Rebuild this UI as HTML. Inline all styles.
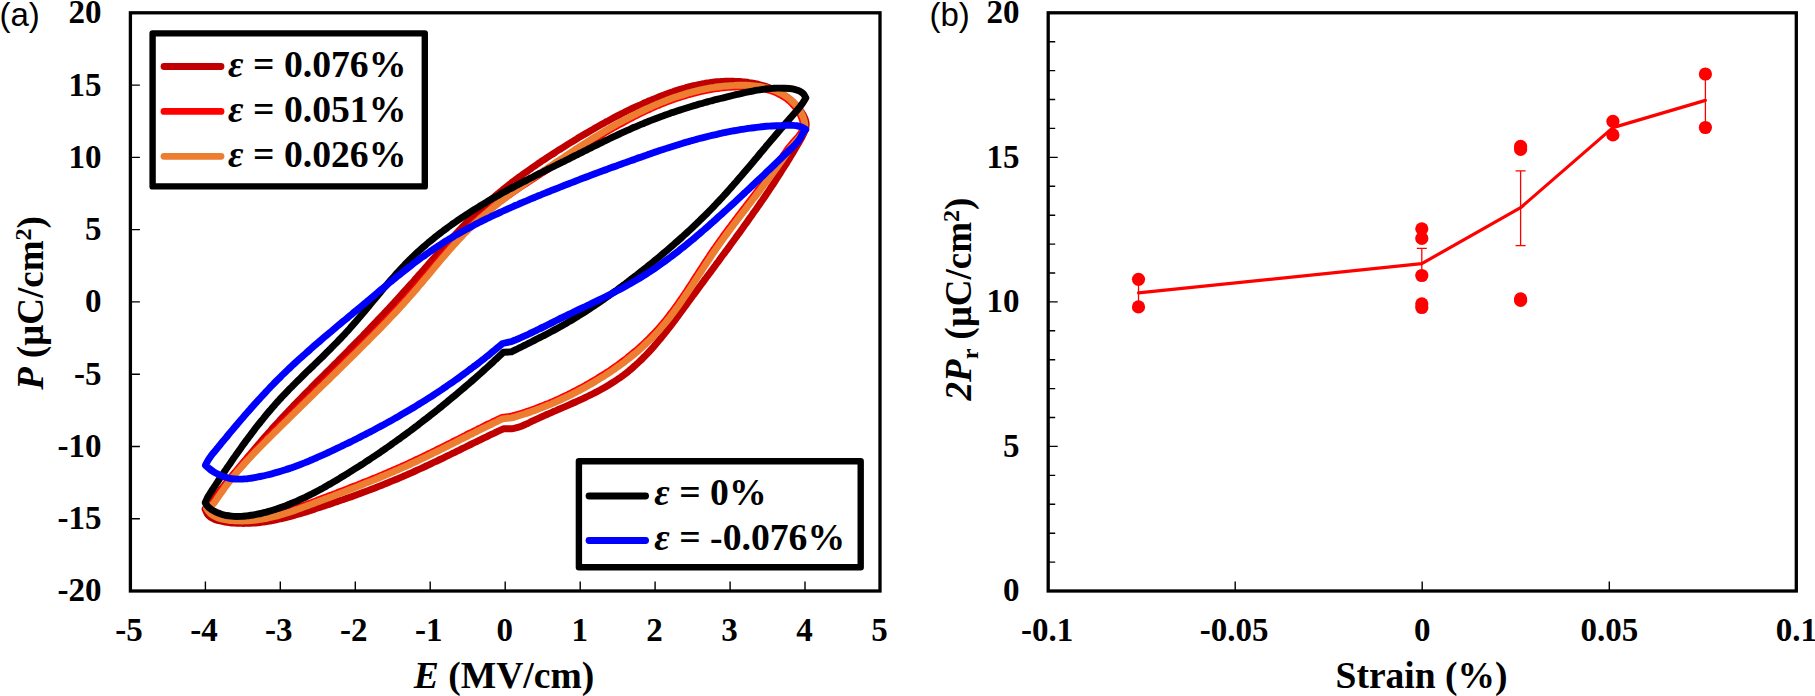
<!DOCTYPE html>
<html lang="en"><head><meta charset="utf-8"><title>Figure</title>
<style>
html,body{margin:0;padding:0;background:#fff}
body{width:1815px;height:696px;overflow:hidden}
svg{display:block}
text{font-family:"Liberation Serif","Times New Roman",serif;font-weight:bold;fill:#000}
.sans{font-family:"Liberation Sans",Arial,sans-serif;font-weight:normal}
.it{font-style:italic}
</style></head><body>
<svg width="1815" height="696" viewBox="0 0 1815 696">
<rect width="1815" height="696" fill="#fff"/>
<g id="panel-a">
<g fill="none" stroke-width="6.9" stroke-linejoin="round" stroke-linecap="round" transform="translate(0 1.3)">
<path stroke="#C00000" d="M503.3 427.5C502.5 427.9 500.3 428.9 498.8 429.6C497.3 430.3 495.8 431.0 494.3 431.8C492.8 432.5 491.2 433.2 489.7 433.9C488.2 434.6 486.7 435.4 485.2 436.1C483.7 436.8 482.2 437.5 480.7 438.3C479.2 439.0 477.7 439.8 476.2 440.5C474.7 441.2 473.2 442.0 471.6 442.7C470.1 443.4 468.6 444.2 467.1 444.9C465.6 445.7 464.1 446.4 462.6 447.1C461.1 447.9 459.6 448.6 458.1 449.4C456.6 450.1 455.0 450.9 453.5 451.6C452.0 452.3 450.5 453.1 449.0 453.8C447.5 454.5 446.0 455.3 444.5 456.0C442.9 456.8 441.4 457.5 439.9 458.2C438.4 458.9 436.9 459.7 435.4 460.4C433.8 461.1 432.3 461.8 430.8 462.6C429.3 463.3 427.8 464.0 426.2 464.7C424.7 465.4 423.2 466.1 421.7 466.8C420.1 467.5 418.6 468.2 417.1 468.9C415.6 469.6 414.0 470.3 412.5 471.0C411.0 471.7 409.4 472.4 407.9 473.0C406.4 473.7 404.8 474.4 403.3 475.0C401.8 475.7 400.2 476.4 398.7 477.0C397.2 477.7 395.6 478.3 394.1 478.9C392.5 479.6 391.0 480.2 389.4 480.8C387.9 481.5 386.4 482.1 384.8 482.7C383.3 483.3 381.7 484.0 380.2 484.6C378.6 485.2 377.1 485.8 375.5 486.4C374.0 487.0 372.4 487.6 370.8 488.2C369.3 488.8 367.7 489.4 366.2 490.0C364.6 490.5 363.0 491.1 361.5 491.7C359.9 492.3 358.3 492.9 356.8 493.4C355.2 494.0 353.6 494.6 352.1 495.1C350.5 495.7 348.9 496.2 347.3 496.8C345.8 497.4 344.2 497.9 342.6 498.5C341.0 499.0 339.4 499.6 337.8 500.1C336.3 500.6 334.7 501.2 333.1 501.7C331.5 502.3 329.9 502.8 328.3 503.3C326.7 503.9 325.1 504.4 323.5 504.9C321.9 505.4 320.3 506.0 318.7 506.5C317.1 507.0 315.5 507.5 313.9 508.1C312.3 508.6 310.7 509.1 309.1 509.6C307.5 510.1 305.9 510.6 304.2 511.1C302.6 511.6 301.0 512.1 299.4 512.6C297.8 513.0 296.1 513.5 294.5 514.0C292.9 514.4 291.3 514.9 289.6 515.3C288.0 515.7 286.4 516.2 284.7 516.6C283.1 517.0 281.5 517.3 279.8 517.7C278.2 518.1 276.6 518.4 274.9 518.8C273.3 519.1 271.6 519.4 270.0 519.7C268.3 520.0 266.7 520.3 265.1 520.5C263.4 520.7 261.8 521.0 260.1 521.2C258.5 521.3 256.8 521.5 255.1 521.7C253.5 521.8 251.8 521.9 250.2 522.0C248.5 522.1 246.9 522.1 245.2 522.1C243.5 522.2 241.9 522.1 240.2 522.1C238.6 522.0 236.9 522.0 235.2 521.8C233.6 521.7 231.9 521.6 230.2 521.4C228.5 521.2 226.9 520.9 225.2 520.7C223.5 520.4 221.8 520.1 220.2 519.7C218.5 519.3 216.9 518.9 215.3 518.4C213.8 517.8 212.2 517.1 210.9 516.2C209.6 515.2 208.3 514.2 207.3 512.7C206.4 511.3 205.4 508.5 205.0 507.7C205.5 507.0 207.0 505.1 208.1 503.8C209.1 502.5 210.2 501.2 211.2 499.9C212.3 498.6 213.4 497.3 214.4 496.1C215.5 494.8 216.6 493.5 217.6 492.2C218.7 490.9 219.8 489.6 220.8 488.3C221.9 487.0 222.9 485.7 224.0 484.4C225.1 483.2 226.1 481.9 227.2 480.6C228.3 479.3 229.3 478.0 230.4 476.7C231.4 475.4 232.5 474.1 233.6 472.8C234.6 471.5 235.7 470.3 236.8 469.0C237.8 467.7 238.9 466.4 240.0 465.1C241.0 463.8 242.1 462.5 243.2 461.2C244.2 460.0 245.3 458.7 246.4 457.4C247.4 456.1 248.5 454.8 249.6 453.6C250.7 452.3 251.8 451.0 252.8 449.7C253.9 448.5 255.0 447.2 256.1 445.9C257.2 444.6 258.2 443.4 259.3 442.1C260.4 440.8 261.5 439.6 262.6 438.3C263.7 437.1 264.8 435.8 265.9 434.5C267.0 433.3 268.1 432.0 269.2 430.8C270.3 429.5 271.4 428.3 272.5 427.0C273.7 425.8 274.8 424.6 275.9 423.3C277.0 422.1 278.2 420.9 279.3 419.6C280.4 418.4 281.5 417.2 282.7 415.9C283.8 414.7 285.0 413.5 286.1 412.3C287.3 411.1 288.4 409.8 289.6 408.6C290.7 407.4 291.9 406.2 293.0 405.0C294.2 403.8 295.3 402.6 296.5 401.4C297.7 400.2 298.8 399.0 300.0 397.8C301.2 396.6 302.3 395.4 303.5 394.2C304.7 393.0 305.8 391.8 307.0 390.6C308.2 389.4 309.4 388.3 310.6 387.1C311.7 385.9 312.9 384.7 314.1 383.5C315.3 382.3 316.5 381.1 317.6 380.0C318.8 378.8 320.0 377.6 321.2 376.4C322.4 375.2 323.6 374.0 324.7 372.9C325.9 371.7 327.1 370.5 328.3 369.3C329.5 368.1 330.7 367.0 331.8 365.8C333.0 364.6 334.2 363.4 335.4 362.2C336.6 361.1 337.8 359.9 338.9 358.7C340.1 357.5 341.3 356.3 342.5 355.1C343.7 354.0 344.8 352.8 346.0 351.6C347.2 350.4 348.4 349.2 349.5 348.0C350.7 346.8 351.9 345.6 353.0 344.5C354.2 343.3 355.4 342.1 356.5 340.9C357.7 339.7 358.9 338.5 360.0 337.3C361.2 336.1 362.4 334.9 363.5 333.7C364.7 332.5 365.8 331.3 367.0 330.1C368.1 328.9 369.3 327.7 370.4 326.5C371.6 325.3 372.8 324.1 373.9 322.9C375.0 321.7 376.2 320.4 377.3 319.2C378.5 318.0 379.6 316.8 380.8 315.6C381.9 314.4 383.1 313.2 384.2 312.0C385.3 310.7 386.5 309.5 387.6 308.3C388.8 307.1 389.9 305.9 391.0 304.6C392.2 303.4 393.3 302.2 394.4 301.0C395.5 299.7 396.7 298.5 397.8 297.3C398.9 296.0 400.1 294.8 401.2 293.6C402.3 292.3 403.4 291.1 404.5 289.9C405.7 288.6 406.8 287.4 407.9 286.1C409.0 284.9 410.1 283.7 411.2 282.4C412.4 281.2 413.5 279.9 414.6 278.7C415.7 277.4 416.8 276.2 417.9 274.9C419.0 273.7 420.1 272.4 421.2 271.2C422.3 269.9 423.5 268.7 424.6 267.4C425.7 266.1 426.8 264.9 427.9 263.6C429.0 262.4 430.1 261.1 431.2 259.9C432.3 258.6 433.4 257.4 434.5 256.1C435.6 254.9 436.7 253.6 437.9 252.4C439.0 251.1 440.1 249.9 441.2 248.6C442.3 247.4 443.4 246.1 444.6 244.9C445.7 243.6 446.8 242.4 447.9 241.2C449.1 239.9 450.2 238.7 451.3 237.5C452.5 236.2 453.6 235.0 454.7 233.8C455.9 232.6 457.0 231.3 458.2 230.1C459.3 228.9 460.5 227.7 461.6 226.5C462.8 225.3 463.9 224.1 465.1 222.9C466.3 221.7 467.4 220.5 468.6 219.3C469.8 218.2 471.0 217.0 472.2 215.8C473.3 214.6 474.5 213.5 475.7 212.3C476.9 211.1 478.1 210.0 479.4 208.9C480.6 207.7 481.8 206.6 483.0 205.4C484.2 204.3 485.5 203.2 486.7 202.1C488.0 201.0 489.2 199.8 490.5 198.8C491.7 197.7 493.0 196.6 494.3 195.5C495.5 194.4 496.8 193.3 498.1 192.3C499.4 191.2 500.7 190.1 502.0 189.1C503.3 188.0 504.6 187.0 505.9 185.9C507.2 184.9 508.5 183.9 509.8 182.8C511.2 181.8 512.5 180.8 513.8 179.8C515.2 178.8 516.5 177.8 517.8 176.8C519.2 175.8 520.5 174.8 521.9 173.8C523.2 172.8 524.6 171.8 526.0 170.9C527.3 169.9 528.7 168.9 530.1 167.9C531.4 167.0 532.8 166.0 534.2 165.1C535.6 164.1 536.9 163.2 538.3 162.2C539.7 161.3 541.1 160.3 542.5 159.4C543.9 158.5 545.3 157.6 546.7 156.6C548.1 155.7 549.5 154.8 550.9 153.9C552.3 153.0 553.7 152.1 555.1 151.2C556.5 150.2 557.9 149.3 559.3 148.4C560.8 147.5 562.2 146.7 563.6 145.8C565.0 144.9 566.4 144.0 567.8 143.1C569.3 142.2 570.7 141.3 572.1 140.5C573.5 139.6 574.9 138.7 576.4 137.9C577.8 137.0 579.2 136.1 580.6 135.3C582.1 134.4 583.5 133.6 584.9 132.7C586.4 131.9 587.8 131.0 589.2 130.2C590.7 129.3 592.1 128.5 593.6 127.7C595.0 126.8 596.4 126.0 597.9 125.2C599.3 124.4 600.8 123.6 602.2 122.8C603.7 121.9 605.2 121.1 606.6 120.3C608.1 119.5 609.5 118.8 611.0 118.0C612.5 117.2 613.9 116.4 615.4 115.6C616.9 114.9 618.4 114.1 619.9 113.3C621.3 112.6 622.8 111.8 624.3 111.1C625.8 110.3 627.3 109.6 628.8 108.9C630.3 108.1 631.8 107.4 633.3 106.7C634.8 106.0 636.4 105.3 637.9 104.6C639.4 103.9 640.9 103.2 642.5 102.5C644.0 101.8 645.5 101.2 647.1 100.5C648.6 99.8 650.2 99.2 651.7 98.5C653.3 97.9 654.8 97.2 656.4 96.6C657.9 96.0 659.5 95.3 661.1 94.7C662.7 94.1 664.2 93.5 665.8 92.9C667.4 92.4 669.0 91.8 670.6 91.2C672.2 90.7 673.8 90.1 675.4 89.6C677.0 89.1 678.6 88.6 680.2 88.1C681.8 87.6 683.4 87.1 685.0 86.7C686.7 86.2 688.3 85.8 689.9 85.3C691.5 84.9 693.2 84.5 694.8 84.2C696.4 83.8 698.0 83.4 699.7 83.1C701.3 82.8 703.0 82.4 704.6 82.2C706.2 81.9 707.9 81.6 709.5 81.4C711.2 81.1 712.8 80.9 714.4 80.7C716.1 80.6 717.7 80.4 719.4 80.3C721.0 80.1 722.7 80.0 724.3 80.0C726.0 79.9 727.6 79.8 729.3 79.8C731.0 79.8 732.6 79.8 734.3 79.9C735.9 79.9 737.6 80.0 739.2 80.1C740.9 80.3 742.5 80.4 744.2 80.6C745.8 80.8 747.5 81.0 749.1 81.3C750.8 81.5 752.5 81.8 754.1 82.1C755.7 82.5 757.4 82.8 759.0 83.2C760.7 83.6 762.3 84.1 763.9 84.6C765.5 85.1 767.1 85.6 768.7 86.2C770.3 86.8 771.8 87.4 773.4 88.1C774.9 88.7 776.4 89.4 777.9 90.2C779.4 91.0 780.9 91.8 782.3 92.6C783.7 93.5 785.1 94.4 786.5 95.4C787.8 96.3 789.1 97.4 790.4 98.4C791.7 99.5 793.0 100.6 794.1 101.8C795.3 103.0 796.5 104.2 797.6 105.5C798.7 106.8 799.8 108.2 800.7 109.6C801.7 111.0 802.7 112.5 803.5 114.0C804.3 115.5 805.0 117.1 805.4 118.6C805.9 120.2 806.2 121.7 806.2 123.3C806.2 124.8 805.9 126.4 805.5 127.9C805.1 129.4 804.4 130.9 803.7 132.4C803.1 133.9 802.2 135.4 801.4 136.9C800.6 138.3 799.7 139.8 798.9 141.3C798.0 142.7 797.2 144.2 796.3 145.7C795.5 147.1 794.6 148.6 793.7 150.0C792.9 151.5 792.0 152.9 791.1 154.4C790.3 155.8 789.4 157.2 788.5 158.7C787.7 160.1 786.8 161.5 785.9 163.0C785.0 164.4 784.1 165.8 783.2 167.2C782.3 168.6 781.4 170.0 780.5 171.5C779.6 172.9 778.7 174.3 777.8 175.7C776.9 177.1 776.0 178.5 775.1 179.9C774.2 181.3 773.3 182.6 772.4 184.0C771.4 185.4 770.5 186.8 769.6 188.2C768.7 189.6 767.7 191.0 766.8 192.3C765.9 193.7 764.9 195.1 764.0 196.5C763.1 197.8 762.1 199.2 761.2 200.6C760.2 201.9 759.3 203.3 758.3 204.7C757.4 206.0 756.4 207.4 755.5 208.8C754.5 210.1 753.6 211.5 752.6 212.8C751.7 214.2 750.7 215.6 749.7 216.9C748.8 218.3 747.8 219.6 746.9 221.0C745.9 222.3 744.9 223.7 743.9 225.0C743.0 226.4 742.0 227.7 741.0 229.1C740.1 230.4 739.1 231.8 738.1 233.1C737.1 234.5 736.1 235.8 735.2 237.2C734.2 238.5 733.2 239.9 732.2 241.2C731.2 242.6 730.2 243.9 729.3 245.3C728.3 246.6 727.3 248.0 726.3 249.3C725.3 250.6 724.3 252.0 723.3 253.3C722.3 254.7 721.3 256.0 720.4 257.4C719.4 258.7 718.4 260.1 717.4 261.4C716.4 262.7 715.4 264.1 714.4 265.4C713.4 266.8 712.4 268.1 711.4 269.5C710.4 270.8 709.4 272.1 708.4 273.5C707.4 274.8 706.4 276.2 705.4 277.5C704.4 278.9 703.4 280.2 702.4 281.6C701.4 282.9 700.4 284.3 699.5 285.6C698.5 286.9 697.5 288.3 696.5 289.6C695.5 291.0 694.5 292.3 693.5 293.7C692.5 295.0 691.5 296.4 690.5 297.7C689.5 299.1 688.5 300.4 687.5 301.8C686.5 303.1 685.5 304.5 684.5 305.8C683.6 307.2 682.6 308.5 681.6 309.9C680.6 311.2 679.6 312.6 678.6 313.9C677.6 315.3 676.6 316.6 675.6 318.0C674.6 319.3 673.6 320.6 672.6 322.0C671.6 323.3 670.6 324.6 669.5 326.0C668.5 327.3 667.5 328.6 666.5 329.9C665.4 331.2 664.4 332.5 663.4 333.8C662.3 335.1 661.3 336.4 660.2 337.7C659.1 339.0 658.1 340.2 657.0 341.5C655.9 342.8 654.8 344.0 653.8 345.3C652.7 346.5 651.6 347.7 650.4 349.0C649.3 350.2 648.2 351.4 647.1 352.6C645.9 353.8 644.8 355.0 643.6 356.1C642.5 357.3 641.3 358.5 640.1 359.6C638.9 360.8 637.7 361.9 636.5 363.0C635.3 364.1 634.0 365.2 632.8 366.3C631.6 367.4 630.3 368.5 629.0 369.5C627.7 370.6 626.4 371.6 625.1 372.6C623.8 373.6 622.5 374.6 621.1 375.6C619.8 376.6 618.4 377.5 617.0 378.5C615.7 379.4 614.3 380.3 612.8 381.2C611.4 382.1 610.0 383.0 608.5 383.9C607.1 384.7 605.6 385.6 604.2 386.4C602.7 387.3 601.2 388.1 599.7 388.9C598.2 389.7 596.7 390.5 595.2 391.3C593.7 392.1 592.1 392.8 590.6 393.6C589.1 394.3 587.5 395.1 586.0 395.8C584.5 396.6 582.9 397.3 581.4 398.0C579.8 398.7 578.3 399.4 576.7 400.2C575.1 400.9 573.6 401.6 572.0 402.2C570.5 402.9 568.9 403.6 567.4 404.3C565.8 405.0 564.2 405.7 562.7 406.3C561.1 407.0 559.6 407.7 558.0 408.3C556.5 409.0 555.0 409.7 553.4 410.3C551.9 411.0 550.4 411.7 548.9 412.3C547.3 413.0 545.8 413.7 544.3 414.3C542.8 415.0 541.4 415.7 539.9 416.3C538.4 417.0 536.9 417.7 535.5 418.3C534.1 419.0 532.6 419.7 531.2 420.4C529.8 421.1 528.4 421.8 527.0 422.5C525.5 423.1 524.1 423.8 522.6 424.4C521.1 425.0 519.5 425.6 517.8 426.1C516.1 426.6 513.2 427.2 512.3 427.4L503.3 427.5Z"/>
<path stroke="#FF0000" d="M502.1 416.1C501.3 416.4 499.0 417.5 497.5 418.2C496.0 419.0 494.5 419.7 492.9 420.4C491.4 421.2 489.9 421.9 488.4 422.6C486.9 423.4 485.4 424.1 483.8 424.9C482.3 425.6 480.8 426.4 479.3 427.1C477.8 427.9 476.3 428.6 474.8 429.4C473.3 430.1 471.7 430.9 470.2 431.6C468.7 432.4 467.2 433.2 465.7 433.9C464.2 434.7 462.7 435.4 461.2 436.2C459.6 437.0 458.1 437.7 456.6 438.5C455.1 439.3 453.6 440.0 452.1 440.8C450.6 441.5 449.0 442.3 447.5 443.1C446.0 443.8 444.5 444.6 443.0 445.4C441.5 446.1 440.0 446.9 438.4 447.6C436.9 448.4 435.4 449.1 433.9 449.9C432.4 450.6 430.8 451.4 429.3 452.1C427.8 452.9 426.3 453.6 424.8 454.3C423.2 455.1 421.7 455.8 420.2 456.5C418.7 457.3 417.1 458.0 415.6 458.7C414.1 459.4 412.5 460.1 411.0 460.8C409.5 461.6 407.9 462.3 406.4 463.0C404.9 463.7 403.3 464.4 401.8 465.0C400.3 465.7 398.7 466.4 397.2 467.1C395.6 467.8 394.1 468.4 392.5 469.1C391.0 469.8 389.4 470.4 387.9 471.1C386.3 471.8 384.8 472.4 383.2 473.1C381.7 473.7 380.1 474.4 378.6 475.0C377.0 475.7 375.5 476.3 373.9 476.9C372.4 477.6 370.8 478.2 369.2 478.9C367.7 479.5 366.1 480.1 364.6 480.7C363.0 481.4 361.4 482.0 359.9 482.6C358.3 483.2 356.7 483.9 355.2 484.5C353.6 485.1 352.0 485.7 350.4 486.3C348.9 486.9 347.3 487.5 345.7 488.2C344.1 488.8 342.6 489.4 341.0 490.0C339.4 490.6 337.8 491.2 336.3 491.8C334.7 492.4 333.1 493.0 331.5 493.6C329.9 494.2 328.4 494.8 326.8 495.4C325.2 496.0 323.6 496.6 322.0 497.2C320.4 497.8 318.8 498.4 317.2 499.0C315.7 499.7 314.1 500.3 312.5 500.9C310.9 501.5 309.3 502.1 307.7 502.7C306.1 503.3 304.5 503.9 302.9 504.4C301.3 505.0 299.7 505.6 298.1 506.2C296.5 506.8 294.9 507.3 293.3 507.9C291.7 508.4 290.1 509.0 288.5 509.5C286.9 510.0 285.3 510.5 283.6 511.0C282.0 511.5 280.4 512.0 278.8 512.4C277.2 512.9 275.5 513.3 273.9 513.7C272.3 514.1 270.6 514.5 269.0 514.9C267.4 515.2 265.7 515.6 264.1 515.9C262.4 516.2 260.8 516.5 259.1 516.7C257.5 517.0 255.8 517.2 254.2 517.4C252.5 517.5 250.8 517.7 249.2 517.8C247.5 517.9 245.8 518.0 244.1 518.0C242.4 518.1 240.7 518.1 239.0 518.0C237.4 518.0 235.7 517.9 233.9 517.8C232.2 517.7 230.5 517.5 228.8 517.3C227.1 517.0 225.4 516.8 223.7 516.4C222.0 516.1 220.3 515.6 218.7 515.1C217.2 514.5 215.6 513.8 214.2 512.9C212.8 512.1 211.5 511.0 210.3 509.8C209.0 508.7 207.4 506.7 206.8 506.1C207.5 505.6 209.7 504.2 210.9 503.1C212.1 502.0 213.2 500.6 214.2 499.3C215.2 497.9 216.1 496.5 217.1 495.1C218.0 493.7 219.0 492.3 219.9 490.9C220.9 489.5 221.9 488.1 222.9 486.7C223.9 485.4 224.9 484.0 225.9 482.7C226.9 481.3 227.9 480.0 229.0 478.7C230.0 477.4 231.1 476.1 232.1 474.8C233.2 473.5 234.2 472.2 235.3 470.9C236.4 469.6 237.5 468.4 238.5 467.1C239.6 465.8 240.7 464.6 241.8 463.3C242.9 462.1 244.0 460.9 245.2 459.6C246.3 458.4 247.4 457.2 248.5 456.0C249.7 454.7 250.8 453.5 251.9 452.3C253.1 451.1 254.2 449.9 255.4 448.7C256.5 447.5 257.7 446.3 258.9 445.2C260.0 444.0 261.2 442.8 262.4 441.6C263.5 440.4 264.7 439.3 265.9 438.1C267.1 436.9 268.2 435.7 269.4 434.6C270.6 433.4 271.8 432.2 273.0 431.0C274.1 429.9 275.3 428.7 276.5 427.5C277.7 426.4 278.9 425.2 280.1 424.0C281.3 422.9 282.5 421.7 283.7 420.5C284.8 419.4 286.0 418.2 287.2 417.0C288.4 415.9 289.6 414.7 290.8 413.5C292.0 412.3 293.2 411.2 294.4 410.0C295.6 408.8 296.8 407.7 298.0 406.5C299.2 405.3 300.3 404.1 301.5 403.0C302.7 401.8 303.9 400.6 305.1 399.5C306.3 398.3 307.5 397.1 308.7 395.9C309.9 394.8 311.1 393.6 312.3 392.4C313.5 391.2 314.7 390.1 315.9 388.9C317.1 387.7 318.3 386.6 319.5 385.4C320.7 384.2 321.9 383.0 323.1 381.9C324.3 380.7 325.5 379.5 326.7 378.3C327.9 377.2 329.0 376.0 330.2 374.8C331.4 373.7 332.6 372.5 333.8 371.3C335.0 370.1 336.2 369.0 337.4 367.8C338.6 366.6 339.8 365.4 341.0 364.3C342.2 363.1 343.4 361.9 344.6 360.8C345.8 359.6 347.0 358.4 348.2 357.2C349.4 356.1 350.6 354.9 351.7 353.7C352.9 352.5 354.1 351.4 355.3 350.2C356.5 349.0 357.7 347.9 358.9 346.7C360.1 345.5 361.3 344.3 362.4 343.1C363.6 342.0 364.8 340.8 366.0 339.6C367.2 338.4 368.4 337.3 369.5 336.1C370.7 334.9 371.9 333.7 373.1 332.5C374.2 331.3 375.4 330.1 376.6 329.0C377.8 327.8 378.9 326.6 380.1 325.4C381.3 324.2 382.4 323.0 383.6 321.8C384.7 320.6 385.9 319.4 387.0 318.2C388.2 317.0 389.4 315.8 390.5 314.5C391.6 313.3 392.8 312.1 393.9 310.9C395.1 309.7 396.2 308.5 397.3 307.2C398.5 306.0 399.6 304.8 400.7 303.5C401.9 302.3 403.0 301.1 404.1 299.8C405.2 298.6 406.3 297.3 407.4 296.1C408.5 294.8 409.7 293.6 410.8 292.3C411.9 291.0 412.9 289.8 414.0 288.5C415.1 287.2 416.2 286.0 417.3 284.7C418.4 283.4 419.5 282.1 420.5 280.8C421.6 279.5 422.7 278.3 423.8 277.0C424.8 275.7 425.9 274.4 427.0 273.1C428.1 271.8 429.1 270.5 430.2 269.2C431.3 267.9 432.4 266.6 433.4 265.4C434.5 264.1 435.6 262.8 436.7 261.5C437.7 260.2 438.8 258.9 439.9 257.6C441.0 256.4 442.1 255.1 443.2 253.8C444.3 252.5 445.3 251.3 446.4 250.0C447.5 248.8 448.6 247.5 449.8 246.2C450.9 245.0 452.0 243.7 453.1 242.5C454.2 241.3 455.4 240.0 456.5 238.8C457.6 237.6 458.8 236.4 459.9 235.2C461.1 234.0 462.2 232.8 463.4 231.6C464.6 230.4 465.8 229.2 466.9 228.1C468.1 226.9 469.3 225.7 470.5 224.6C471.8 223.4 473.0 222.3 474.2 221.2C475.4 220.1 476.7 219.0 477.9 217.9C479.2 216.8 480.5 215.7 481.7 214.6C483.0 213.5 484.3 212.5 485.6 211.4C486.9 210.4 488.2 209.3 489.5 208.3C490.8 207.2 492.1 206.2 493.4 205.2C494.8 204.2 496.1 203.2 497.4 202.2C498.8 201.2 500.1 200.2 501.5 199.2C502.8 198.2 504.2 197.2 505.6 196.2C506.9 195.2 508.3 194.3 509.7 193.3C511.0 192.4 512.4 191.4 513.8 190.4C515.2 189.5 516.6 188.5 518.0 187.6C519.3 186.7 520.7 185.7 522.1 184.8C523.5 183.9 524.9 182.9 526.3 182.0C527.7 181.1 529.2 180.1 530.6 179.2C532.0 178.3 533.4 177.4 534.8 176.5C536.2 175.5 537.6 174.6 539.0 173.7C540.4 172.8 541.8 171.9 543.2 171.0C544.6 170.1 546.1 169.2 547.5 168.2C548.9 167.3 550.3 166.4 551.7 165.5C553.1 164.6 554.5 163.7 555.9 162.8C557.3 161.8 558.7 160.9 560.1 160.0C561.5 159.1 562.9 158.2 564.3 157.3C565.7 156.4 567.1 155.5 568.5 154.6C569.9 153.6 571.3 152.7 572.7 151.8C574.1 150.9 575.5 150.0 576.9 149.1C578.3 148.2 579.7 147.3 581.1 146.4C582.5 145.5 583.9 144.6 585.3 143.7C586.7 142.8 588.1 141.9 589.5 141.1C590.9 140.2 592.3 139.3 593.7 138.4C595.2 137.5 596.6 136.7 598.0 135.8C599.4 134.9 600.8 134.1 602.2 133.2C603.7 132.4 605.1 131.5 606.5 130.6C607.9 129.8 609.4 129.0 610.8 128.1C612.3 127.3 613.7 126.5 615.1 125.6C616.6 124.8 618.0 124.0 619.5 123.2C620.9 122.4 622.4 121.6 623.9 120.8C625.3 120.0 626.8 119.2 628.3 118.4C629.7 117.6 631.2 116.9 632.7 116.1C634.2 115.3 635.7 114.6 637.2 113.8C638.7 113.1 640.2 112.3 641.7 111.6C643.2 110.9 644.7 110.2 646.2 109.4C647.7 108.7 649.3 108.0 650.8 107.4C652.3 106.7 653.9 106.0 655.4 105.3C656.9 104.7 658.5 104.0 660.0 103.4C661.6 102.7 663.2 102.1 664.7 101.5C666.3 100.9 667.8 100.3 669.4 99.7C671.0 99.1 672.6 98.5 674.2 98.0C675.7 97.4 677.3 96.9 678.9 96.4C680.5 95.8 682.1 95.3 683.7 94.8C685.3 94.3 686.9 93.9 688.5 93.4C690.1 92.9 691.7 92.5 693.4 92.1C695.0 91.7 696.6 91.3 698.2 90.9C699.9 90.5 701.5 90.1 703.1 89.8C704.8 89.4 706.4 89.1 708.0 88.8C709.7 88.5 711.3 88.2 713.0 87.9C714.6 87.6 716.3 87.4 717.9 87.2C719.6 86.9 721.2 86.7 722.9 86.6C724.6 86.4 726.2 86.2 727.9 86.1C729.6 85.9 731.2 85.8 732.9 85.7C734.6 85.7 736.3 85.6 738.0 85.6C739.6 85.5 741.3 85.5 743.0 85.5C744.7 85.5 746.4 85.6 748.0 85.6C749.7 85.7 751.4 85.8 753.1 86.0C754.7 86.1 756.4 86.3 758.1 86.5C759.7 86.8 761.3 87.0 763.0 87.4C764.6 87.7 766.2 88.1 767.8 88.5C769.4 88.9 770.9 89.4 772.5 90.0C774.0 90.5 775.5 91.1 777.0 91.8C778.5 92.5 780.0 93.2 781.4 94.1C782.8 94.9 784.3 95.8 785.6 96.7C787.0 97.7 788.3 98.7 789.6 99.9C790.9 101.0 792.1 102.2 793.3 103.5C794.5 104.8 795.7 106.1 796.7 107.6C797.8 109.0 798.7 110.5 799.6 112.0C800.4 113.5 801.2 115.1 801.7 116.7C802.3 118.2 802.8 119.9 803.0 121.4C803.2 123.0 803.3 124.6 803.0 126.1C802.8 127.7 802.3 129.1 801.6 130.6C800.9 132.0 799.9 133.3 798.9 134.6C797.8 136.0 796.6 137.2 795.4 138.5C794.2 139.8 793.0 141.1 791.9 142.5C790.7 143.8 789.7 145.1 788.7 146.5C787.6 147.8 786.7 149.2 785.7 150.6C784.8 152.0 783.8 153.4 782.9 154.7C782.0 156.1 781.0 157.5 780.1 158.9C779.1 160.2 778.2 161.6 777.2 163.0C776.2 164.3 775.3 165.7 774.3 167.0C773.3 168.4 772.3 169.7 771.4 171.1C770.4 172.4 769.4 173.8 768.4 175.1C767.4 176.5 766.4 177.8 765.4 179.1C764.4 180.5 763.4 181.8 762.4 183.1C761.4 184.5 760.4 185.8 759.4 187.1C758.4 188.4 757.4 189.8 756.4 191.1C755.4 192.4 754.3 193.7 753.3 195.1C752.3 196.4 751.3 197.7 750.3 199.0C749.3 200.4 748.2 201.7 747.2 203.0C746.2 204.3 745.2 205.7 744.2 207.0C743.1 208.3 742.1 209.6 741.1 211.0C740.1 212.3 739.1 213.6 738.1 214.9C737.1 216.3 736.0 217.6 735.0 218.9C734.0 220.3 733.0 221.6 732.0 222.9C731.0 224.3 730.0 225.6 729.0 226.9C728.0 228.3 727.0 229.6 726.0 231.0C725.0 232.3 724.0 233.7 723.0 235.0C722.1 236.4 721.1 237.8 720.1 239.1C719.1 240.5 718.2 241.9 717.2 243.2C716.2 244.6 715.3 246.0 714.3 247.4C713.4 248.8 712.4 250.1 711.5 251.5C710.5 252.9 709.6 254.3 708.7 255.7C707.8 257.1 706.8 258.5 705.9 259.9C705.0 261.3 704.1 262.8 703.1 264.2C702.2 265.6 701.3 267.0 700.4 268.4C699.5 269.8 698.6 271.2 697.7 272.7C696.7 274.1 695.8 275.5 694.9 276.9C694.0 278.3 693.1 279.7 692.2 281.2C691.3 282.6 690.3 284.0 689.4 285.4C688.5 286.8 687.6 288.2 686.7 289.6C685.7 291.0 684.8 292.4 683.9 293.8C682.9 295.2 682.0 296.6 681.0 297.9C680.1 299.3 679.1 300.7 678.1 302.1C677.2 303.4 676.2 304.8 675.2 306.2C674.3 307.5 673.3 308.9 672.3 310.2C671.3 311.5 670.3 312.9 669.2 314.2C668.2 315.5 667.2 316.8 666.2 318.1C665.1 319.4 664.1 320.7 663.0 322.0C661.9 323.2 660.9 324.5 659.8 325.8C658.7 327.0 657.6 328.3 656.4 329.5C655.3 330.7 654.2 331.9 653.0 333.1C651.9 334.3 650.7 335.5 649.6 336.7C648.4 337.9 647.2 339.0 646.0 340.2C644.8 341.4 643.6 342.5 642.4 343.6C641.1 344.7 639.9 345.9 638.6 347.0C637.4 348.1 636.1 349.2 634.9 350.2C633.6 351.3 632.3 352.4 631.0 353.4C629.7 354.5 628.4 355.5 627.1 356.6C625.8 357.6 624.5 358.6 623.1 359.6C621.8 360.7 620.5 361.6 619.1 362.6C617.8 363.6 616.4 364.6 615.0 365.6C613.7 366.5 612.3 367.5 610.9 368.4C609.5 369.4 608.1 370.3 606.7 371.2C605.3 372.1 603.9 373.0 602.5 373.9C601.1 374.8 599.6 375.7 598.2 376.6C596.8 377.5 595.3 378.4 593.9 379.2C592.5 380.1 591.0 380.9 589.6 381.7C588.1 382.6 586.6 383.4 585.2 384.2C583.7 385.0 582.2 385.8 580.8 386.6C579.3 387.4 577.8 388.2 576.3 389.0C574.8 389.8 573.3 390.5 571.8 391.3C570.4 392.0 568.9 392.8 567.4 393.5C565.8 394.2 564.3 395.0 562.8 395.7C561.3 396.4 559.8 397.1 558.3 397.8C556.8 398.5 555.2 399.2 553.7 399.8C552.2 400.5 550.6 401.1 549.1 401.8C547.6 402.4 546.0 403.1 544.5 403.7C542.9 404.3 541.4 404.9 539.8 405.5C538.2 406.1 536.7 406.7 535.1 407.3C533.5 407.9 532.0 408.4 530.4 409.0C528.8 409.5 527.2 410.1 525.7 410.6C524.1 411.1 522.5 411.7 520.9 412.2C519.3 412.7 517.7 413.2 516.1 413.6C514.5 414.1 512.1 414.8 511.3 415.0L502.1 416.1Z"/>
<path stroke="#ED7D31" d="M502.5 417.6C501.7 418.0 499.5 419.0 498.0 419.7C496.5 420.5 495.0 421.2 493.5 421.9C492.0 422.6 490.5 423.4 489.0 424.1C487.5 424.8 486.0 425.6 484.5 426.3C483.0 427.0 481.5 427.8 480.0 428.5C478.5 429.3 477.0 430.0 475.5 430.8C474.0 431.5 472.5 432.3 471.1 433.0C469.6 433.8 468.1 434.5 466.6 435.3C465.1 436.0 463.6 436.8 462.1 437.5C460.6 438.3 459.1 439.0 457.6 439.8C456.1 440.6 454.6 441.3 453.1 442.1C451.6 442.8 450.1 443.6 448.6 444.3C447.1 445.1 445.6 445.8 444.1 446.6C442.6 447.3 441.1 448.1 439.6 448.8C438.1 449.6 436.6 450.3 435.1 451.0C433.6 451.8 432.1 452.5 430.6 453.3C429.1 454.0 427.6 454.7 426.1 455.5C424.6 456.2 423.1 456.9 421.6 457.6C420.1 458.3 418.6 459.1 417.1 459.8C415.6 460.5 414.1 461.2 412.5 461.9C411.0 462.6 409.5 463.3 408.0 464.0C406.5 464.7 405.0 465.4 403.4 466.1C401.9 466.7 400.4 467.4 398.9 468.1C397.4 468.8 395.8 469.4 394.3 470.1C392.8 470.8 391.2 471.4 389.7 472.1C388.2 472.7 386.6 473.4 385.1 474.0C383.6 474.7 382.0 475.3 380.5 476.0C379.0 476.6 377.4 477.2 375.9 477.9C374.4 478.5 372.8 479.1 371.3 479.8C369.7 480.4 368.2 481.0 366.6 481.6C365.1 482.2 363.6 482.9 362.0 483.5C360.5 484.1 358.9 484.7 357.4 485.3C355.8 485.9 354.3 486.5 352.7 487.2C351.2 487.8 349.6 488.4 348.0 489.0C346.5 489.6 344.9 490.2 343.4 490.8C341.8 491.4 340.3 492.0 338.7 492.6C337.1 493.2 335.6 493.8 334.0 494.4C332.4 495.0 330.9 495.6 329.3 496.2C327.8 496.8 326.2 497.4 324.6 498.0C323.1 498.6 321.5 499.1 319.9 499.7C318.4 500.3 316.8 500.9 315.2 501.5C313.6 502.1 312.1 502.7 310.5 503.3C308.9 503.9 307.4 504.5 305.8 505.1C304.2 505.7 302.6 506.3 301.0 506.8C299.5 507.4 297.9 508.0 296.3 508.5C294.7 509.1 293.1 509.6 291.5 510.2C290.0 510.7 288.4 511.2 286.8 511.7C285.2 512.2 283.6 512.7 282.0 513.2C280.4 513.6 278.8 514.1 277.2 514.5C275.6 514.9 274.0 515.4 272.3 515.7C270.7 516.1 269.1 516.5 267.5 516.8C265.9 517.2 264.2 517.5 262.6 517.8C261.0 518.0 259.3 518.3 257.7 518.5C256.1 518.8 254.4 519.0 252.8 519.1C251.1 519.3 249.5 519.4 247.8 519.5C246.2 519.6 244.5 519.6 242.8 519.7C241.2 519.7 239.5 519.7 237.8 519.6C236.1 519.5 234.4 519.4 232.7 519.3C231.0 519.2 229.3 519.0 227.6 518.7C225.9 518.5 224.2 518.2 222.6 517.8C220.9 517.4 219.3 517.0 217.7 516.4C216.2 515.8 214.7 515.1 213.3 514.3C211.9 513.4 210.6 512.4 209.5 511.2C208.4 510.0 207.1 507.8 206.6 507.1C207.3 506.6 209.7 505.5 211.1 504.5C212.4 503.5 213.5 502.2 214.6 500.9C215.6 499.7 216.5 498.2 217.5 496.8C218.5 495.4 219.4 494.0 220.3 492.6C221.3 491.2 222.3 489.8 223.3 488.5C224.2 487.1 225.2 485.7 226.2 484.4C227.3 483.1 228.3 481.7 229.3 480.4C230.3 479.1 231.4 477.8 232.4 476.5C233.5 475.2 234.5 473.9 235.6 472.6C236.6 471.3 237.7 470.1 238.8 468.8C239.9 467.5 241.0 466.3 242.1 465.0C243.2 463.8 244.3 462.6 245.4 461.3C246.5 460.1 247.6 458.9 248.7 457.7C249.8 456.4 251.0 455.2 252.1 454.0C253.3 452.8 254.4 451.6 255.5 450.4C256.7 449.2 257.8 448.0 259.0 446.9C260.1 445.7 261.3 444.5 262.5 443.3C263.6 442.1 264.8 441.0 266.0 439.8C267.1 438.6 268.3 437.4 269.5 436.3C270.7 435.1 271.9 433.9 273.0 432.8C274.2 431.6 275.4 430.4 276.6 429.3C277.8 428.1 278.9 427.0 280.1 425.8C281.3 424.6 282.5 423.5 283.7 422.3C284.9 421.1 286.1 420.0 287.3 418.8C288.4 417.6 289.6 416.5 290.8 415.3C292.0 414.1 293.2 413.0 294.4 411.8C295.6 410.6 296.8 409.5 298.0 408.3C299.1 407.1 300.3 406.0 301.5 404.8C302.7 403.6 303.9 402.5 305.1 401.3C306.3 400.1 307.5 399.0 308.7 397.8C309.9 396.6 311.1 395.5 312.3 394.3C313.5 393.1 314.6 392.0 315.8 390.8C317.0 389.6 318.2 388.5 319.4 387.3C320.6 386.1 321.8 385.0 323.0 383.8C324.2 382.6 325.4 381.4 326.6 380.3C327.8 379.1 329.0 377.9 330.2 376.8C331.4 375.6 332.5 374.4 333.7 373.3C334.9 372.1 336.1 370.9 337.3 369.8C338.5 368.6 339.7 367.4 340.9 366.3C342.1 365.1 343.3 363.9 344.5 362.7C345.6 361.6 346.8 360.4 348.0 359.2C349.2 358.1 350.4 356.9 351.6 355.7C352.8 354.6 354.0 353.4 355.2 352.2C356.3 351.0 357.5 349.9 358.7 348.7C359.9 347.5 361.1 346.3 362.3 345.2C363.4 344.0 364.6 342.8 365.8 341.6C367.0 340.5 368.2 339.3 369.3 338.1C370.5 336.9 371.7 335.7 372.8 334.6C374.0 333.4 375.2 332.2 376.4 331.0C377.5 329.8 378.7 328.6 379.9 327.4C381.0 326.2 382.2 325.1 383.3 323.9C384.5 322.7 385.6 321.5 386.8 320.3C387.9 319.1 389.1 317.9 390.2 316.6C391.4 315.4 392.5 314.2 393.7 313.0C394.8 311.8 395.9 310.6 397.1 309.4C398.2 308.1 399.3 306.9 400.5 305.7C401.6 304.5 402.7 303.2 403.8 302.0C404.9 300.8 406.1 299.5 407.2 298.3C408.3 297.0 409.4 295.8 410.5 294.5C411.6 293.3 412.7 292.0 413.8 290.8C414.9 289.5 416.0 288.2 417.1 287.0C418.1 285.7 419.2 284.4 420.3 283.2C421.4 281.9 422.5 280.6 423.5 279.3C424.6 278.1 425.7 276.8 426.8 275.5C427.8 274.2 428.9 272.9 430.0 271.6C431.0 270.4 432.1 269.1 433.2 267.8C434.3 266.5 435.3 265.2 436.4 263.9C437.5 262.7 438.6 261.4 439.6 260.1C440.7 258.8 441.8 257.6 442.9 256.3C444.0 255.0 445.0 253.8 446.1 252.5C447.2 251.2 448.3 250.0 449.4 248.7C450.5 247.5 451.6 246.2 452.7 245.0C453.8 243.7 455.0 242.5 456.1 241.3C457.2 240.0 458.3 238.8 459.5 237.6C460.6 236.4 461.7 235.1 462.9 233.9C464.0 232.7 465.2 231.5 466.4 230.4C467.5 229.2 468.7 228.0 469.9 226.8C471.1 225.7 472.3 224.5 473.5 223.4C474.7 222.2 475.9 221.1 477.1 220.0C478.3 218.8 479.6 217.7 480.8 216.6C482.1 215.5 483.3 214.4 484.6 213.3C485.8 212.2 487.1 211.1 488.4 210.1C489.6 209.0 490.9 207.9 492.2 206.9C493.5 205.8 494.8 204.8 496.1 203.7C497.4 202.7 498.7 201.6 500.0 200.6C501.4 199.6 502.7 198.6 504.0 197.6C505.3 196.5 506.7 195.5 508.0 194.5C509.3 193.5 510.7 192.5 512.0 191.5C513.4 190.6 514.7 189.6 516.1 188.6C517.5 187.6 518.8 186.6 520.2 185.7C521.5 184.7 522.9 183.7 524.3 182.8C525.6 181.8 527.0 180.8 528.4 179.9C529.8 178.9 531.1 178.0 532.5 177.0C533.9 176.1 535.3 175.1 536.7 174.2C538.1 173.2 539.4 172.3 540.8 171.4C542.2 170.4 543.6 169.5 545.0 168.5C546.4 167.6 547.7 166.7 549.1 165.7C550.5 164.8 551.9 163.9 553.3 162.9C554.7 162.0 556.0 161.1 557.4 160.1C558.8 159.2 560.2 158.3 561.6 157.4C563.0 156.4 564.4 155.5 565.7 154.6C567.1 153.7 568.5 152.7 569.9 151.8C571.3 150.9 572.7 150.0 574.1 149.1C575.4 148.2 576.8 147.3 578.2 146.4C579.6 145.5 581.0 144.6 582.4 143.7C583.8 142.8 585.2 141.9 586.6 141.0C588.0 140.1 589.4 139.2 590.8 138.3C592.2 137.4 593.6 136.6 595.0 135.7C596.4 134.8 597.8 134.0 599.3 133.1C600.7 132.2 602.1 131.4 603.5 130.5C604.9 129.7 606.4 128.8 607.8 128.0C609.2 127.2 610.7 126.3 612.1 125.5C613.5 124.7 615.0 123.8 616.4 123.0C617.9 122.2 619.3 121.4 620.8 120.6C622.2 119.8 623.7 119.0 625.1 118.2C626.6 117.5 628.1 116.7 629.6 115.9C631.0 115.1 632.5 114.4 634.0 113.6C635.5 112.9 637.0 112.1 638.5 111.4C640.0 110.7 641.5 109.9 643.0 109.2C644.5 108.5 646.0 107.8 647.5 107.1C649.1 106.4 650.6 105.7 652.1 105.0C653.6 104.4 655.2 103.7 656.7 103.0C658.3 102.4 659.8 101.8 661.4 101.1C662.9 100.5 664.5 99.9 666.0 99.3C667.6 98.7 669.2 98.1 670.7 97.5C672.3 97.0 673.9 96.4 675.5 95.8C677.0 95.3 678.6 94.8 680.2 94.3C681.8 93.8 683.4 93.3 685.0 92.8C686.6 92.3 688.2 91.8 689.8 91.4C691.4 90.9 693.0 90.5 694.6 90.1C696.3 89.7 697.9 89.3 699.5 88.9C701.1 88.5 702.8 88.2 704.4 87.8C706.0 87.5 707.6 87.2 709.3 86.9C710.9 86.6 712.6 86.3 714.2 86.1C715.9 85.8 717.5 85.6 719.2 85.4C720.8 85.2 722.5 85.0 724.1 84.8C725.8 84.6 727.4 84.5 729.1 84.4C730.8 84.2 732.4 84.1 734.1 84.1C735.8 84.0 737.5 83.9 739.1 83.9C740.8 83.9 742.5 83.9 744.2 83.9C745.9 84.0 747.5 84.0 749.2 84.1C750.9 84.2 752.6 84.3 754.2 84.5C755.9 84.7 757.5 84.9 759.2 85.1C760.8 85.4 762.4 85.6 764.1 86.0C765.7 86.3 767.3 86.7 768.9 87.2C770.4 87.6 772.0 88.1 773.5 88.7C775.1 89.2 776.6 89.8 778.1 90.5C779.5 91.2 781.0 92.0 782.4 92.8C783.8 93.6 785.2 94.5 786.6 95.4C787.9 96.4 789.3 97.4 790.6 98.6C791.8 99.7 793.1 100.9 794.3 102.1C795.5 103.4 796.6 104.8 797.7 106.2C798.7 107.6 799.7 109.0 800.6 110.5C801.5 112.0 802.2 113.6 802.9 115.2C803.5 116.7 804.0 118.4 804.3 119.9C804.7 121.5 804.9 123.2 804.8 124.7C804.7 126.3 804.5 127.8 803.9 129.3C803.4 130.7 802.6 132.1 801.7 133.5C800.8 134.8 799.6 136.1 798.5 137.4C797.4 138.8 796.1 140.0 795.0 141.3C793.8 142.6 792.7 144.0 791.6 145.3C790.5 146.6 789.5 148.0 788.6 149.4C787.6 150.7 786.6 152.1 785.7 153.5C784.8 154.8 783.8 156.2 782.9 157.6C781.9 159.0 781.0 160.3 780.0 161.7C779.1 163.1 778.1 164.4 777.2 165.8C776.2 167.1 775.2 168.5 774.3 169.8C773.3 171.2 772.3 172.5 771.3 173.8C770.3 175.2 769.4 176.5 768.4 177.9C767.4 179.2 766.4 180.5 765.4 181.8C764.4 183.2 763.4 184.5 762.4 185.8C761.4 187.2 760.4 188.5 759.4 189.8C758.4 191.1 757.3 192.4 756.3 193.8C755.3 195.1 754.3 196.4 753.3 197.7C752.3 199.0 751.3 200.4 750.3 201.7C749.2 203.0 748.2 204.3 747.2 205.6C746.2 207.0 745.2 208.3 744.2 209.6C743.1 210.9 742.1 212.2 741.1 213.6C740.1 214.9 739.1 216.2 738.1 217.5C737.1 218.9 736.1 220.2 735.1 221.5C734.1 222.9 733.1 224.2 732.1 225.5C731.1 226.9 730.1 228.2 729.1 229.5C728.1 230.9 727.1 232.2 726.1 233.6C725.1 234.9 724.1 236.3 723.2 237.6C722.2 239.0 721.2 240.3 720.2 241.7C719.3 243.1 718.3 244.4 717.4 245.8C716.4 247.2 715.4 248.6 714.5 249.9C713.6 251.3 712.6 252.7 711.7 254.1C710.8 255.5 709.8 256.9 708.9 258.3C708.0 259.7 707.1 261.1 706.1 262.5C705.2 263.9 704.3 265.3 703.4 266.7C702.5 268.1 701.6 269.6 700.7 271.0C699.7 272.4 698.8 273.8 697.9 275.2C697.0 276.6 696.1 278.0 695.2 279.4C694.3 280.8 693.4 282.3 692.5 283.7C691.5 285.1 690.6 286.5 689.7 287.9C688.8 289.3 687.9 290.7 686.9 292.1C686.0 293.5 685.1 294.8 684.1 296.2C683.2 297.6 682.2 299.0 681.3 300.4C680.3 301.7 679.4 303.1 678.4 304.5C677.4 305.8 676.5 307.2 675.5 308.5C674.5 309.9 673.5 311.2 672.5 312.5C671.5 313.9 670.5 315.2 669.5 316.5C668.5 317.8 667.4 319.1 666.4 320.4C665.3 321.7 664.3 322.9 663.2 324.2C662.1 325.5 661.1 326.7 660.0 328.0C658.9 329.2 657.7 330.4 656.6 331.7C655.5 332.9 654.4 334.1 653.2 335.3C652.1 336.5 650.9 337.6 649.7 338.8C648.5 340.0 647.3 341.1 646.1 342.3C644.9 343.4 643.7 344.6 642.5 345.7C641.3 346.8 640.0 347.9 638.8 349.0C637.5 350.1 636.3 351.2 635.0 352.2C633.7 353.3 632.4 354.4 631.1 355.4C629.8 356.5 628.5 357.5 627.2 358.5C625.9 359.5 624.6 360.6 623.3 361.6C621.9 362.6 620.6 363.6 619.2 364.5C617.9 365.5 616.5 366.5 615.1 367.4C613.8 368.4 612.4 369.3 611.0 370.3C609.6 371.2 608.2 372.1 606.8 373.0C605.4 374.0 604.0 374.9 602.6 375.8C601.2 376.6 599.8 377.5 598.3 378.4C596.9 379.3 595.5 380.1 594.0 381.0C592.6 381.8 591.2 382.7 589.7 383.5C588.2 384.3 586.8 385.1 585.3 386.0C583.9 386.8 582.4 387.6 580.9 388.4C579.5 389.1 578.0 389.9 576.5 390.7C575.0 391.5 573.5 392.2 572.0 393.0C570.5 393.7 569.0 394.5 567.5 395.2C566.0 395.9 564.5 396.6 563.0 397.3C561.5 398.1 560.0 398.8 558.5 399.4C557.0 400.1 555.5 400.8 553.9 401.5C552.4 402.1 550.9 402.8 549.3 403.4C547.8 404.1 546.3 404.7 544.7 405.3C543.2 405.9 541.6 406.5 540.1 407.1C538.5 407.7 537.0 408.3 535.4 408.9C533.8 409.5 532.3 410.0 530.7 410.6C529.1 411.1 527.5 411.7 526.0 412.2C524.4 412.7 522.8 413.2 521.2 413.7C519.6 414.2 518.0 414.7 516.4 415.2C514.8 415.7 512.4 416.4 511.6 416.6L502.5 417.6Z"/>
<path stroke="#000000" d="M503.4 351.0C502.8 351.6 501.0 353.3 499.7 354.5C498.5 355.6 497.3 356.7 496.1 357.9C494.8 359.0 493.6 360.2 492.4 361.3C491.1 362.5 489.9 363.6 488.7 364.7C487.4 365.9 486.2 367.0 484.9 368.1C483.7 369.2 482.4 370.4 481.2 371.5C479.9 372.6 478.6 373.7 477.4 374.9C476.1 376.0 474.9 377.1 473.6 378.2C472.3 379.3 471.0 380.4 469.8 381.5C468.5 382.6 467.2 383.7 465.9 384.8C464.7 385.9 463.4 387.0 462.1 388.1C460.8 389.2 459.5 390.3 458.2 391.4C456.9 392.5 455.6 393.6 454.3 394.7C453.0 395.7 451.7 396.8 450.4 397.9C449.1 399.0 447.8 400.1 446.5 401.1C445.2 402.2 443.9 403.3 442.6 404.3C441.3 405.4 440.0 406.4 438.6 407.5C437.3 408.6 436.0 409.6 434.7 410.7C433.4 411.7 432.0 412.8 430.7 413.8C429.4 414.8 428.1 415.9 426.7 416.9C425.4 417.9 424.1 419.0 422.7 420.0C421.4 421.0 420.1 422.1 418.7 423.1C417.4 424.1 416.1 425.1 414.7 426.1C413.4 427.1 412.0 428.2 410.7 429.2C409.3 430.2 408.0 431.2 406.6 432.2C405.3 433.2 403.9 434.2 402.6 435.1C401.2 436.1 399.9 437.1 398.5 438.1C397.1 439.1 395.8 440.1 394.4 441.0C393.0 442.0 391.7 443.0 390.3 444.0C388.9 444.9 387.6 445.9 386.2 446.8C384.8 447.8 383.4 448.8 382.0 449.7C380.7 450.7 379.3 451.6 377.9 452.6C376.5 453.5 375.1 454.4 373.7 455.4C372.3 456.3 370.9 457.2 369.5 458.2C368.1 459.1 366.7 460.0 365.3 460.9C363.9 461.9 362.5 462.8 361.1 463.7C359.7 464.6 358.2 465.5 356.8 466.4C355.4 467.3 354.0 468.2 352.5 469.1C351.1 470.0 349.7 470.9 348.2 471.8C346.8 472.7 345.4 473.6 343.9 474.5C342.5 475.3 341.0 476.2 339.6 477.1C338.1 478.0 336.7 478.8 335.2 479.7C333.7 480.5 332.3 481.4 330.8 482.3C329.3 483.1 327.9 484.0 326.4 484.8C324.9 485.6 323.4 486.5 322.0 487.3C320.5 488.1 319.0 488.9 317.5 489.7C316.0 490.5 314.5 491.3 313.0 492.1C311.5 492.8 310.0 493.6 308.4 494.4C306.9 495.1 305.4 495.9 303.9 496.6C302.4 497.3 300.8 498.0 299.3 498.7C297.8 499.4 296.2 500.1 294.7 500.8C293.1 501.4 291.6 502.1 290.0 502.7C288.5 503.4 286.9 504.0 285.3 504.6C283.7 505.2 282.2 505.8 280.6 506.3C279.0 506.9 277.4 507.4 275.8 507.9C274.2 508.4 272.6 508.9 271.0 509.4C269.4 509.9 267.8 510.3 266.2 510.8C264.6 511.2 262.9 511.6 261.3 512.0C259.7 512.4 258.0 512.7 256.4 513.0C254.7 513.4 253.1 513.7 251.4 513.9C249.7 514.2 248.1 514.5 246.4 514.6C244.7 514.8 243.1 515.0 241.4 515.1C239.7 515.2 238.0 515.2 236.4 515.2C234.7 515.2 233.0 515.1 231.4 514.9C229.7 514.7 228.1 514.5 226.4 514.2C224.8 513.8 223.1 513.4 221.5 512.9C219.9 512.4 218.2 511.8 216.6 511.1C215.0 510.4 213.4 509.5 211.9 508.6C210.5 507.6 209.0 506.6 207.9 505.4C206.8 504.2 205.6 502.1 205.2 501.4C205.5 500.6 206.5 498.3 207.2 496.9C208.0 495.4 208.9 494.0 209.7 492.6C210.6 491.1 211.5 489.8 212.4 488.4C213.3 487.0 214.3 485.6 215.2 484.2C216.1 482.8 217.0 481.4 217.9 480.0C218.9 478.7 219.8 477.3 220.7 475.9C221.7 474.5 222.6 473.1 223.5 471.7C224.5 470.3 225.4 468.9 226.3 467.6C227.3 466.2 228.2 464.8 229.2 463.4C230.1 462.0 231.1 460.7 232.0 459.3C233.0 457.9 233.9 456.5 234.9 455.2C235.8 453.8 236.8 452.4 237.8 451.1C238.7 449.7 239.7 448.3 240.7 447.0C241.6 445.6 242.6 444.2 243.6 442.9C244.6 441.5 245.6 440.2 246.6 438.8C247.6 437.5 248.6 436.1 249.6 434.8C250.6 433.5 251.6 432.1 252.6 430.8C253.6 429.5 254.6 428.1 255.6 426.8C256.7 425.5 257.7 424.2 258.7 422.9C259.8 421.6 260.8 420.3 261.9 419.0C262.9 417.7 264.0 416.4 265.0 415.1C266.1 413.8 267.1 412.5 268.2 411.2C269.3 409.9 270.4 408.7 271.5 407.4C272.6 406.1 273.7 404.9 274.8 403.6C275.9 402.4 277.0 401.1 278.1 399.9C279.2 398.7 280.3 397.4 281.5 396.2C282.6 395.0 283.8 393.8 284.9 392.6C286.1 391.3 287.2 390.1 288.4 388.9C289.5 387.7 290.7 386.5 291.9 385.4C293.1 384.2 294.2 383.0 295.4 381.8C296.6 380.6 297.8 379.4 299.0 378.3C300.2 377.1 301.4 375.9 302.6 374.7C303.7 373.6 304.9 372.4 306.1 371.2C307.3 370.1 308.5 368.9 309.7 367.8C310.9 366.6 312.2 365.4 313.4 364.3C314.6 363.1 315.8 361.9 317.0 360.8C318.2 359.6 319.4 358.4 320.6 357.3C321.8 356.1 323.0 354.9 324.2 353.8C325.3 352.6 326.5 351.4 327.7 350.2C328.9 349.1 330.1 347.9 331.3 346.7C332.5 345.5 333.6 344.3 334.8 343.1C336.0 341.9 337.2 340.7 338.3 339.5C339.5 338.3 340.6 337.1 341.8 335.9C342.9 334.7 344.1 333.5 345.2 332.3C346.3 331.0 347.5 329.8 348.6 328.6C349.7 327.3 350.8 326.1 351.9 324.8C353.0 323.6 354.1 322.3 355.2 321.0C356.3 319.8 357.4 318.5 358.5 317.2C359.6 316.0 360.7 314.7 361.7 313.4C362.8 312.1 363.9 310.8 365.0 309.6C366.0 308.3 367.1 307.0 368.2 305.7C369.3 304.4 370.3 303.1 371.4 301.8C372.5 300.6 373.5 299.3 374.6 298.0C375.7 296.7 376.7 295.4 377.8 294.1C378.9 292.8 379.9 291.5 381.0 290.3C382.1 289.0 383.2 287.7 384.2 286.4C385.3 285.2 386.4 283.9 387.5 282.6C388.6 281.4 389.7 280.1 390.8 278.8C391.8 277.6 392.9 276.3 394.1 275.1C395.2 273.8 396.3 272.6 397.4 271.4C398.5 270.1 399.6 268.9 400.8 267.7C401.9 266.5 403.0 265.3 404.2 264.1C405.3 262.9 406.5 261.7 407.7 260.5C408.8 259.3 410.0 258.1 411.2 257.0C412.4 255.8 413.6 254.6 414.8 253.5C416.0 252.4 417.2 251.2 418.4 250.1C419.7 249.0 420.9 247.9 422.1 246.8C423.4 245.7 424.6 244.6 425.9 243.5C427.2 242.4 428.4 241.3 429.7 240.3C431.0 239.2 432.3 238.1 433.6 237.1C434.9 236.0 436.2 235.0 437.5 234.0C438.8 232.9 440.1 231.9 441.4 230.9C442.7 229.9 444.1 228.9 445.4 227.9C446.8 226.9 448.1 225.9 449.5 224.9C450.8 223.9 452.2 223.0 453.5 222.0C454.9 221.1 456.3 220.1 457.6 219.1C459.0 218.2 460.4 217.3 461.8 216.3C463.2 215.4 464.6 214.5 466.0 213.6C467.4 212.6 468.8 211.7 470.2 210.8C471.6 209.9 473.0 209.0 474.4 208.1C475.8 207.3 477.3 206.4 478.7 205.5C480.1 204.6 481.5 203.8 483.0 202.9C484.4 202.0 485.9 201.2 487.3 200.3C488.7 199.5 490.2 198.6 491.6 197.8C493.1 197.0 494.5 196.1 496.0 195.3C497.4 194.5 498.9 193.7 500.4 192.9C501.8 192.0 503.3 191.2 504.7 190.4C506.2 189.6 507.7 188.8 509.1 188.0C510.6 187.2 512.1 186.4 513.6 185.7C515.0 184.9 516.5 184.1 518.0 183.3C519.5 182.5 521.0 181.8 522.4 181.0C523.9 180.2 525.4 179.4 526.9 178.7C528.4 177.9 529.9 177.1 531.3 176.4C532.8 175.6 534.3 174.9 535.8 174.1C537.3 173.4 538.8 172.6 540.3 171.8C541.8 171.1 543.3 170.3 544.8 169.6C546.3 168.8 547.8 168.1 549.2 167.3C550.7 166.6 552.2 165.8 553.7 165.1C555.2 164.3 556.7 163.6 558.2 162.8C559.7 162.1 561.2 161.4 562.7 160.6C564.2 159.9 565.7 159.1 567.2 158.4C568.7 157.6 570.2 156.9 571.7 156.1C573.2 155.4 574.7 154.6 576.1 153.9C577.6 153.1 579.1 152.4 580.6 151.6C582.1 150.9 583.6 150.1 585.1 149.4C586.6 148.6 588.1 147.9 589.6 147.1C591.1 146.4 592.6 145.6 594.1 144.9C595.6 144.1 597.1 143.4 598.6 142.7C600.1 141.9 601.6 141.2 603.1 140.5C604.6 139.7 606.1 139.0 607.6 138.3C609.1 137.6 610.6 136.8 612.1 136.1C613.6 135.4 615.1 134.7 616.6 134.0C618.1 133.3 619.7 132.6 621.2 131.9C622.7 131.2 624.2 130.5 625.7 129.8C627.2 129.1 628.8 128.5 630.3 127.8C631.8 127.1 633.3 126.4 634.9 125.8C636.4 125.1 637.9 124.5 639.5 123.8C641.0 123.2 642.6 122.5 644.1 121.9C645.6 121.3 647.2 120.6 648.7 120.0C650.3 119.4 651.8 118.8 653.4 118.2C654.9 117.6 656.5 117.0 658.1 116.4C659.6 115.8 661.2 115.2 662.8 114.7C664.3 114.1 665.9 113.5 667.5 113.0C669.1 112.4 670.6 111.9 672.2 111.3C673.8 110.8 675.4 110.3 677.0 109.7C678.6 109.2 680.2 108.7 681.7 108.2C683.3 107.7 684.9 107.2 686.5 106.7C688.1 106.2 689.7 105.7 691.3 105.2C692.9 104.7 694.5 104.2 696.1 103.8C697.7 103.3 699.3 102.8 701.0 102.4C702.6 101.9 704.2 101.5 705.8 101.0C707.4 100.6 709.0 100.1 710.6 99.7C712.2 99.3 713.9 98.8 715.5 98.4C717.1 98.0 718.7 97.6 720.3 97.2C722.0 96.8 723.6 96.4 725.2 96.0C726.8 95.6 728.4 95.2 730.1 94.8C731.7 94.4 733.3 94.0 734.9 93.6C736.6 93.2 738.2 92.9 739.8 92.5C741.5 92.1 743.1 91.8 744.7 91.4C746.3 91.1 748.0 90.7 749.6 90.4C751.2 90.0 752.9 89.7 754.5 89.4C756.1 89.1 757.8 88.8 759.4 88.6C761.1 88.3 762.7 88.1 764.3 87.9C766.0 87.6 767.6 87.5 769.3 87.3C771.0 87.2 772.6 87.0 774.3 86.9C776.0 86.9 777.6 86.8 779.3 86.8C781.0 86.8 782.7 86.8 784.4 86.9C786.1 87.0 787.8 87.1 789.5 87.2C791.2 87.4 792.9 87.6 794.6 88.0C796.2 88.4 797.8 88.8 799.2 89.5C800.7 90.2 802.0 91.1 803.1 92.2C804.3 93.4 805.4 95.9 805.9 96.6C805.5 97.3 804.2 99.5 803.3 100.9C802.4 102.3 801.3 103.6 800.3 105.0C799.3 106.3 798.2 107.6 797.1 108.9C796.0 110.2 794.9 111.5 793.8 112.7C792.7 114.0 791.6 115.3 790.5 116.5C789.4 117.8 788.3 119.1 787.2 120.3C786.1 121.6 785.0 122.9 783.9 124.1C782.8 125.4 781.7 126.7 780.6 127.9C779.5 129.2 778.4 130.5 777.4 131.8C776.3 133.0 775.2 134.3 774.1 135.6C773.0 136.9 771.9 138.2 770.8 139.5C769.8 140.7 768.7 142.0 767.6 143.3C766.5 144.6 765.4 145.9 764.4 147.2C763.3 148.5 762.2 149.8 761.1 151.0C760.0 152.3 759.0 153.6 757.9 154.9C756.8 156.2 755.7 157.5 754.6 158.8C753.6 160.1 752.5 161.3 751.4 162.6C750.3 163.9 749.2 165.2 748.2 166.5C747.1 167.8 746.0 169.1 744.9 170.3C743.8 171.6 742.7 172.9 741.6 174.2C740.5 175.4 739.4 176.7 738.3 178.0C737.2 179.3 736.1 180.5 735.0 181.8C733.9 183.1 732.8 184.3 731.7 185.6C730.6 186.8 729.5 188.1 728.4 189.3C727.2 190.6 726.1 191.8 725.0 193.1C723.9 194.3 722.7 195.6 721.6 196.8C720.4 198.0 719.3 199.3 718.2 200.5C717.0 201.7 715.9 202.9 714.7 204.2C713.5 205.4 712.4 206.6 711.2 207.8C710.0 209.0 708.9 210.2 707.7 211.4C706.5 212.6 705.3 213.8 704.1 214.9C702.9 216.1 701.7 217.3 700.5 218.5C699.3 219.6 698.1 220.8 696.9 222.0C695.7 223.1 694.5 224.3 693.3 225.4C692.1 226.6 690.8 227.8 689.6 228.9C688.4 230.0 687.1 231.2 685.9 232.3C684.7 233.4 683.4 234.6 682.2 235.7C680.9 236.8 679.7 237.9 678.4 239.1C677.2 240.2 675.9 241.3 674.6 242.4C673.4 243.5 672.1 244.6 670.8 245.7C669.6 246.8 668.3 247.9 667.0 249.0C665.7 250.1 664.4 251.2 663.2 252.2C661.9 253.3 660.6 254.4 659.3 255.5C658.0 256.6 656.7 257.6 655.4 258.7C654.1 259.8 652.8 260.8 651.5 261.9C650.2 262.9 648.9 264.0 647.6 265.0C646.3 266.1 644.9 267.1 643.6 268.2C642.3 269.2 641.0 270.3 639.7 271.3C638.3 272.3 637.0 273.4 635.7 274.4C634.4 275.4 633.0 276.5 631.7 277.5C630.4 278.5 629.0 279.5 627.7 280.6C626.4 281.6 625.0 282.6 623.7 283.6C622.3 284.6 621.0 285.6 619.6 286.6C618.3 287.6 616.9 288.6 615.6 289.6C614.2 290.6 612.9 291.5 611.5 292.5C610.1 293.5 608.8 294.5 607.4 295.4C606.0 296.4 604.6 297.4 603.3 298.3C601.9 299.3 600.5 300.2 599.1 301.2C597.7 302.1 596.4 303.1 595.0 304.0C593.6 304.9 592.2 305.9 590.8 306.8C589.4 307.7 588.0 308.6 586.6 309.5C585.1 310.5 583.7 311.4 582.3 312.3C580.9 313.2 579.5 314.0 578.1 314.9C576.6 315.8 575.2 316.7 573.8 317.6C572.3 318.4 570.9 319.3 569.4 320.1C568.0 321.0 566.5 321.8 565.1 322.7C563.6 323.5 562.2 324.3 560.7 325.2C559.2 326.0 557.8 326.8 556.3 327.6C554.8 328.4 553.3 329.2 551.9 330.0C550.4 330.8 548.9 331.6 547.4 332.4C545.9 333.2 544.4 333.9 542.9 334.7C541.4 335.5 539.9 336.2 538.4 337.0C536.9 337.8 535.4 338.5 533.9 339.3C532.4 340.1 530.9 340.8 529.4 341.6C527.9 342.3 526.4 343.1 524.9 343.8C523.4 344.6 521.9 345.3 520.4 346.1C518.9 346.8 517.4 347.6 515.9 348.3C514.4 349.1 512.1 350.2 511.4 350.6L503.4 351.0Z"/>
<path stroke="#0000FF" d="M502.6 342.2C502.0 342.7 500.0 344.4 498.8 345.4C497.5 346.5 496.2 347.6 494.9 348.6C493.6 349.7 492.3 350.8 491.0 351.8C489.7 352.9 488.4 353.9 487.1 355.0C485.8 356.0 484.5 357.1 483.2 358.1C481.8 359.1 480.5 360.2 479.2 361.2C477.9 362.2 476.5 363.2 475.2 364.3C473.9 365.3 472.5 366.3 471.2 367.3C469.9 368.3 468.5 369.3 467.2 370.3C465.8 371.3 464.5 372.3 463.1 373.3C461.8 374.3 460.4 375.3 459.0 376.3C457.7 377.2 456.3 378.2 454.9 379.2C453.6 380.1 452.2 381.1 450.8 382.1C449.4 383.0 448.1 384.0 446.7 384.9C445.3 385.9 443.9 386.8 442.5 387.8C441.1 388.7 439.7 389.6 438.3 390.6C436.9 391.5 435.5 392.4 434.1 393.3C432.7 394.3 431.3 395.2 429.9 396.1C428.5 397.0 427.1 397.9 425.6 398.8C424.2 399.7 422.8 400.6 421.4 401.4C420.0 402.3 418.5 403.2 417.1 404.1C415.7 405.0 414.2 405.8 412.8 406.7C411.4 407.6 409.9 408.4 408.5 409.3C407.1 410.1 405.6 411.0 404.2 411.8C402.7 412.7 401.3 413.5 399.8 414.3C398.4 415.2 396.9 416.0 395.4 416.8C394.0 417.7 392.5 418.5 391.1 419.3C389.6 420.1 388.1 420.9 386.7 421.7C385.2 422.5 383.7 423.3 382.3 424.1C380.8 424.9 379.3 425.7 377.8 426.5C376.3 427.3 374.9 428.1 373.4 428.9C371.9 429.7 370.4 430.4 368.9 431.2C367.4 432.0 365.9 432.8 364.5 433.5C363.0 434.3 361.5 435.0 360.0 435.8C358.5 436.6 357.0 437.3 355.5 438.1C354.0 438.8 352.5 439.6 351.0 440.3C349.5 441.1 348.0 441.8 346.4 442.5C344.9 443.3 343.4 444.0 341.9 444.7C340.4 445.5 338.9 446.2 337.4 446.9C335.8 447.7 334.3 448.4 332.8 449.1C331.3 449.8 329.8 450.5 328.2 451.2C326.7 451.9 325.2 452.6 323.7 453.3C322.1 454.0 320.6 454.7 319.0 455.4C317.5 456.1 316.0 456.7 314.4 457.4C312.9 458.1 311.3 458.7 309.8 459.4C308.2 460.0 306.7 460.6 305.1 461.3C303.6 461.9 302.0 462.5 300.4 463.1C298.9 463.7 297.3 464.3 295.7 464.9C294.2 465.5 292.6 466.0 291.0 466.6C289.4 467.1 287.8 467.7 286.3 468.2C284.7 468.7 283.1 469.2 281.5 469.7C279.9 470.2 278.3 470.7 276.7 471.1C275.1 471.6 273.4 472.1 271.8 472.5C270.2 472.9 268.6 473.3 266.9 473.7C265.3 474.1 263.7 474.5 262.0 474.8C260.4 475.2 258.7 475.5 257.1 475.8C255.4 476.1 253.8 476.4 252.1 476.7C250.4 476.9 248.8 477.2 247.1 477.4C245.4 477.5 243.8 477.7 242.1 477.8C240.4 477.9 238.8 477.9 237.1 477.8C235.4 477.8 233.8 477.6 232.1 477.4C230.5 477.2 228.8 476.9 227.2 476.4C225.6 476.0 223.9 475.5 222.3 474.8C220.8 474.2 219.2 473.5 217.7 472.7C216.1 472.0 214.7 471.1 213.2 470.2C211.8 469.3 210.4 468.3 209.1 467.2C207.8 466.2 206.0 464.5 205.4 464.0C205.8 463.2 206.9 460.9 207.8 459.4C208.6 458.0 209.6 456.6 210.6 455.3C211.6 453.9 212.6 452.6 213.7 451.3C214.7 450.0 215.8 448.8 216.8 447.5C217.9 446.2 218.9 444.9 220.0 443.6C221.1 442.3 222.1 441.0 223.2 439.7C224.3 438.4 225.3 437.2 226.4 435.9C227.5 434.6 228.5 433.3 229.6 432.0C230.7 430.7 231.7 429.4 232.8 428.2C233.9 426.9 235.0 425.6 236.1 424.3C237.1 423.0 238.2 421.8 239.3 420.5C240.4 419.2 241.5 417.9 242.6 416.7C243.7 415.4 244.8 414.1 245.9 412.8C247.0 411.6 248.1 410.3 249.2 409.1C250.3 407.8 251.4 406.5 252.5 405.3C253.7 404.0 254.8 402.8 255.9 401.5C257.0 400.3 258.2 399.0 259.3 397.8C260.4 396.6 261.6 395.3 262.7 394.1C263.8 392.9 265.0 391.6 266.1 390.4C267.3 389.2 268.4 388.0 269.6 386.7C270.8 385.5 271.9 384.3 273.1 383.1C274.2 381.9 275.4 380.7 276.6 379.5C277.8 378.3 279.0 377.2 280.2 376.0C281.3 374.8 282.5 373.6 283.7 372.5C284.9 371.3 286.1 370.1 287.3 369.0C288.6 367.8 289.8 366.7 291.0 365.5C292.2 364.4 293.4 363.2 294.6 362.1C295.9 360.9 297.1 359.8 298.3 358.7C299.6 357.6 300.8 356.4 302.1 355.3C303.3 354.2 304.5 353.1 305.8 352.0C307.0 350.9 308.3 349.8 309.6 348.7C310.8 347.5 312.1 346.4 313.3 345.3C314.6 344.3 315.9 343.2 317.1 342.1C318.4 341.0 319.7 339.9 320.9 338.8C322.2 337.7 323.5 336.6 324.7 335.5C326.0 334.5 327.3 333.4 328.6 332.3C329.9 331.2 331.1 330.1 332.4 329.1C333.7 328.0 335.0 326.9 336.3 325.8C337.6 324.8 338.8 323.7 340.1 322.6C341.4 321.6 342.7 320.5 344.0 319.4C345.3 318.3 346.6 317.3 347.9 316.2C349.1 315.1 350.4 314.1 351.7 313.0C353.0 311.9 354.3 310.8 355.6 309.8C356.9 308.7 358.2 307.6 359.5 306.5C360.7 305.5 362.0 304.4 363.3 303.3C364.6 302.2 365.9 301.2 367.2 300.1C368.5 299.0 369.7 297.9 371.0 296.9C372.3 295.8 373.6 294.7 374.9 293.6C376.2 292.5 377.4 291.5 378.7 290.4C380.0 289.3 381.3 288.2 382.6 287.2C383.9 286.1 385.2 285.0 386.5 283.9C387.8 282.9 389.1 281.8 390.3 280.7C391.6 279.7 392.9 278.6 394.2 277.6C395.5 276.5 396.8 275.5 398.1 274.4C399.4 273.4 400.8 272.3 402.1 271.3C403.4 270.2 404.7 269.2 406.0 268.2C407.3 267.1 408.6 266.1 410.0 265.1C411.3 264.1 412.6 263.0 413.9 262.0C415.3 261.0 416.6 260.0 417.9 259.0C419.3 258.0 420.6 257.0 422.0 256.0C423.3 255.1 424.7 254.1 426.0 253.1C427.4 252.2 428.7 251.2 430.1 250.2C431.5 249.3 432.9 248.3 434.2 247.4C435.6 246.5 437.0 245.6 438.4 244.6C439.8 243.7 441.2 242.8 442.6 241.9C444.0 241.0 445.4 240.1 446.8 239.3C448.2 238.4 449.6 237.5 451.1 236.7C452.5 235.8 453.9 235.0 455.4 234.1C456.8 233.3 458.3 232.4 459.7 231.6C461.2 230.8 462.6 230.0 464.1 229.2C465.5 228.4 467.0 227.6 468.5 226.8C469.9 226.0 471.4 225.2 472.9 224.4C474.4 223.6 475.8 222.9 477.3 222.1C478.8 221.3 480.3 220.6 481.8 219.8C483.3 219.1 484.8 218.4 486.3 217.6C487.8 216.9 489.3 216.2 490.8 215.4C492.3 214.7 493.8 214.0 495.3 213.3C496.9 212.6 498.4 211.9 499.9 211.2C501.4 210.5 502.9 209.8 504.5 209.1C506.0 208.4 507.5 207.7 509.0 207.0C510.6 206.3 512.1 205.7 513.6 205.0C515.2 204.3 516.7 203.7 518.3 203.0C519.8 202.3 521.3 201.7 522.9 201.0C524.4 200.4 526.0 199.7 527.5 199.1C529.1 198.4 530.6 197.8 532.1 197.1C533.7 196.5 535.2 195.8 536.8 195.2C538.3 194.6 539.9 193.9 541.4 193.3C543.0 192.7 544.5 192.0 546.1 191.4C547.6 190.8 549.2 190.2 550.7 189.5C552.3 188.9 553.9 188.3 555.4 187.7C557.0 187.1 558.5 186.5 560.1 185.8C561.6 185.2 563.2 184.6 564.7 184.0C566.3 183.4 567.9 182.8 569.4 182.2C571.0 181.6 572.5 181.0 574.1 180.4C575.7 179.8 577.2 179.2 578.8 178.6C580.3 178.0 581.9 177.4 583.5 176.8C585.0 176.2 586.6 175.6 588.2 175.1C589.7 174.5 591.3 173.9 592.9 173.3C594.4 172.7 596.0 172.1 597.6 171.5C599.1 171.0 600.7 170.4 602.3 169.8C603.8 169.2 605.4 168.6 607.0 168.1C608.5 167.5 610.1 166.9 611.7 166.3C613.2 165.7 614.8 165.2 616.4 164.6C618.0 164.0 619.5 163.5 621.1 162.9C622.7 162.3 624.2 161.7 625.8 161.2C627.4 160.6 629.0 160.0 630.5 159.5C632.1 158.9 633.7 158.3 635.3 157.8C636.8 157.2 638.4 156.6 640.0 156.1C641.6 155.5 643.2 155.0 644.7 154.4C646.3 153.9 647.9 153.3 649.5 152.8C651.1 152.2 652.6 151.7 654.2 151.1C655.8 150.6 657.4 150.1 659.0 149.5C660.6 149.0 662.2 148.5 663.8 148.0C665.3 147.4 666.9 146.9 668.5 146.4C670.1 145.9 671.7 145.4 673.3 144.9C674.9 144.4 676.5 143.9 678.1 143.4C679.7 142.9 681.3 142.4 682.9 141.9C684.5 141.5 686.1 141.0 687.7 140.5C689.3 140.1 690.9 139.6 692.6 139.1C694.2 138.7 695.8 138.2 697.4 137.8C699.0 137.4 700.6 136.9 702.3 136.5C703.9 136.1 705.5 135.7 707.1 135.3C708.7 134.9 710.4 134.5 712.0 134.1C713.6 133.7 715.3 133.3 716.9 133.0C718.5 132.6 720.2 132.2 721.8 131.9C723.4 131.5 725.1 131.2 726.7 130.8C728.4 130.5 730.0 130.2 731.7 129.9C733.3 129.6 735.0 129.3 736.6 129.0C738.3 128.7 739.9 128.4 741.6 128.1C743.2 127.9 744.9 127.6 746.5 127.4C748.2 127.1 749.9 126.9 751.5 126.7C753.2 126.5 754.8 126.3 756.5 126.1C758.2 125.9 759.8 125.7 761.5 125.5C763.2 125.3 764.8 125.2 766.5 125.0C768.2 124.9 769.8 124.8 771.5 124.7C773.2 124.6 774.9 124.5 776.5 124.4C778.2 124.3 779.9 124.2 781.5 124.2C783.2 124.1 784.9 124.1 786.6 124.0C788.2 124.0 789.9 124.0 791.6 124.0C793.2 124.1 794.9 124.1 796.5 124.4C798.1 124.7 799.8 125.0 801.3 125.6C802.8 126.2 805.1 127.8 805.8 128.2C805.3 128.8 803.5 130.6 802.6 132.1C801.7 133.5 801.1 135.2 800.3 136.7C799.4 138.2 798.4 139.5 797.4 140.8C796.3 142.1 795.1 143.3 794.0 144.5C792.8 145.7 791.6 146.8 790.4 148.0C789.2 149.2 788.0 150.3 786.7 151.5C785.5 152.7 784.3 153.8 783.1 155.0C781.9 156.1 780.7 157.3 779.5 158.5C778.3 159.6 777.1 160.8 775.9 161.9C774.7 163.1 773.5 164.3 772.3 165.4C771.1 166.6 769.9 167.7 768.7 168.9C767.4 170.0 766.2 171.2 765.0 172.4C763.8 173.5 762.6 174.7 761.4 175.8C760.2 177.0 759.0 178.1 757.7 179.3C756.5 180.4 755.3 181.6 754.1 182.7C752.9 183.9 751.7 185.0 750.4 186.2C749.2 187.3 748.0 188.5 746.8 189.6C745.6 190.8 744.3 191.9 743.1 193.1C741.9 194.2 740.7 195.4 739.4 196.5C738.2 197.6 737.0 198.8 735.8 199.9C734.5 201.1 733.3 202.2 732.1 203.3C730.8 204.5 729.6 205.6 728.4 206.7C727.1 207.9 725.9 209.0 724.6 210.1C723.4 211.2 722.2 212.4 720.9 213.5C719.7 214.6 718.4 215.7 717.2 216.8C715.9 218.0 714.7 219.1 713.4 220.2C712.2 221.3 710.9 222.4 709.7 223.5C708.4 224.6 707.2 225.7 705.9 226.9C704.6 228.0 703.4 229.1 702.1 230.1C700.8 231.2 699.6 232.3 698.3 233.4C697.0 234.5 695.7 235.6 694.5 236.7C693.2 237.8 691.9 238.8 690.6 239.9C689.3 241.0 688.0 242.0 686.7 243.1C685.4 244.2 684.1 245.2 682.8 246.3C681.5 247.3 680.2 248.3 678.9 249.4C677.6 250.4 676.3 251.4 674.9 252.5C673.6 253.5 672.3 254.5 671.0 255.5C669.6 256.5 668.3 257.5 666.9 258.5C665.6 259.5 664.2 260.5 662.9 261.4C661.5 262.4 660.2 263.4 658.8 264.3C657.4 265.3 656.1 266.3 654.7 267.2C653.3 268.1 651.9 269.1 650.5 270.0C649.1 270.9 647.7 271.8 646.3 272.7C644.9 273.6 643.5 274.5 642.1 275.4C640.6 276.3 639.2 277.1 637.8 278.0C636.3 278.8 634.9 279.7 633.4 280.5C632.0 281.4 630.5 282.2 629.1 283.0C627.6 283.8 626.1 284.6 624.7 285.4C623.2 286.3 621.7 287.0 620.2 287.8C618.7 288.6 617.3 289.4 615.8 290.2C614.3 291.0 612.8 291.7 611.3 292.5C609.8 293.2 608.3 294.0 606.8 294.8C605.2 295.5 603.7 296.2 602.2 297.0C600.7 297.7 599.2 298.5 597.7 299.2C596.2 299.9 594.7 300.7 593.1 301.4C591.6 302.1 590.1 302.9 588.6 303.6C587.1 304.3 585.5 305.1 584.0 305.8C582.5 306.5 581.0 307.2 579.5 307.9C577.9 308.7 576.4 309.4 574.9 310.1C573.4 310.8 571.9 311.6 570.4 312.3C568.9 313.0 567.3 313.8 565.8 314.5C564.3 315.2 562.8 316.0 561.3 316.7C559.8 317.4 558.3 318.2 556.8 318.9C555.3 319.7 553.9 320.4 552.4 321.2C550.9 321.9 549.4 322.7 547.9 323.4C546.4 324.2 544.9 324.9 543.4 325.7C541.9 326.4 540.4 327.1 538.9 327.9C537.4 328.6 536.0 329.4 534.4 330.1C532.9 330.8 531.4 331.5 529.9 332.2C528.4 333.0 526.9 333.7 525.4 334.4C523.8 335.1 522.3 335.7 520.8 336.4C519.2 337.1 517.7 337.7 516.1 338.4C514.6 339.0 512.2 340.0 511.4 340.3L502.6 342.2Z"/>
</g>
<rect x="130.4" y="12.8" width="749.6" height="578.2" fill="none" stroke="#000" stroke-width="3.3"/>
<path d="M205.4 591.0 v-9.5M280.3 591.0 v-9.5M355.3 591.0 v-9.5M430.2 591.0 v-9.5M505.2 591.0 v-9.5M580.2 591.0 v-9.5M655.1 591.0 v-9.5M730.1 591.0 v-9.5M805.0 591.0 v-9.5M130.4 85.1 h9.5M130.4 157.4 h9.5M130.4 229.6 h9.5M130.4 301.9 h9.5M130.4 374.2 h9.5M130.4 446.5 h9.5M130.4 518.7 h9.5" stroke="#000" stroke-width="1.4" fill="none"/>
<g font-size="33" text-anchor="end">
<text x="101.5" y="23.2">20</text>
<text x="101.5" y="95.5">15</text>
<text x="101.5" y="167.8">10</text>
<text x="101.5" y="240.0">5</text>
<text x="101.5" y="312.3">0</text>
<text x="101.5" y="384.6">-5</text>
<text x="101.5" y="456.9">-10</text>
<text x="101.5" y="529.1">-15</text>
<text x="101.5" y="601.4">-20</text>
</g>
<g font-size="33" text-anchor="middle">
<text x="128.9" y="640.5">-5</text>
<text x="203.9" y="640.5">-4</text>
<text x="278.8" y="640.5">-3</text>
<text x="353.8" y="640.5">-2</text>
<text x="428.7" y="640.5">-1</text>
<text x="504.7" y="640.5">0</text>
<text x="579.7" y="640.5">1</text>
<text x="654.6" y="640.5">2</text>
<text x="729.6" y="640.5">3</text>
<text x="804.5" y="640.5">4</text>
<text x="879.5" y="640.5">5</text>
</g>
<text x="504" y="688" font-size="37.6" text-anchor="middle"><tspan class="it">E</tspan> (MV/cm)</text>
<text transform="translate(42.5 303) rotate(-90)" font-size="37" text-anchor="middle"><tspan class="it">P</tspan> (μC/cm<tspan font-size="24" dy="-12">2</tspan><tspan dy="12">)</tspan></text>
<text class="sans" x="-0.5" y="25.8" font-size="33">(a)</text>
<rect x="152.6" y="33.4" width="272.2" height="153.0" fill="#fff" stroke="#000" stroke-width="6.4" stroke-linejoin="round"/>
<path d="M164.0 66.5 H221.0" stroke="#C00000" stroke-width="6.8" stroke-linecap="round" fill="none"/>
<text x="228.1" y="76.9" font-size="37.7"><tspan class="it">ε</tspan> = 0.076%</text>
<path d="M164.0 111.4 H221.0" stroke="#FF0000" stroke-width="6.8" stroke-linecap="round" fill="none"/>
<text x="228.1" y="121.7" font-size="37.7"><tspan class="it">ε</tspan> = 0.051%</text>
<path d="M164.0 156.3 H221.0" stroke="#ED7D31" stroke-width="6.8" stroke-linecap="round" fill="none"/>
<text x="228.1" y="166.5" font-size="37.7"><tspan class="it">ε</tspan> = 0.026%</text>
<rect x="578.9" y="461.3" width="281.8" height="106.0" fill="#fff" stroke="#000" stroke-width="6.4" stroke-linejoin="round"/>
<path d="M589.0 496.0 H645.6" stroke="#000000" stroke-width="6.8" stroke-linecap="round" fill="none"/>
<text x="654.3" y="505.1" font-size="37.7"><tspan class="it">ε</tspan> = 0%</text>
<path d="M589.0 540.5 H645.6" stroke="#0000FF" stroke-width="6.8" stroke-linecap="round" fill="none"/>
<text x="654.3" y="550.4" font-size="37.7"><tspan class="it">ε</tspan> = -0.076%</text>
</g>
<g id="panel-b">
<rect x="1048.2" y="12.8" width="748.1" height="578.2" fill="none" stroke="#000" stroke-width="3.3"/>
<path d="M1235.2 591.0 v-9.5M1422.2 591.0 v-9.5M1609.3 591.0 v-9.5M1048.2 41.7 h7.0M1048.2 70.6 h7.0M1048.2 99.5 h7.0M1048.2 128.4 h7.0M1048.2 157.4 h9.5M1048.2 186.3 h7.0M1048.2 215.2 h7.0M1048.2 244.1 h7.0M1048.2 273.0 h7.0M1048.2 301.9 h9.5M1048.2 330.8 h7.0M1048.2 359.7 h7.0M1048.2 388.6 h7.0M1048.2 417.5 h7.0M1048.2 446.4 h9.5M1048.2 475.4 h7.0M1048.2 504.3 h7.0M1048.2 533.2 h7.0M1048.2 562.1 h7.0" stroke="#000" stroke-width="1.4" fill="none"/>
<g font-size="33" text-anchor="end">
<text x="1019.5" y="23.2">20</text>
<text x="1019.5" y="167.8">15</text>
<text x="1019.5" y="312.3">10</text>
<text x="1019.5" y="456.9">5</text>
<text x="1019.5" y="601.4">0</text>
</g>
<g font-size="33" text-anchor="middle">
<text x="1047.2" y="640.5">-0.1</text>
<text x="1234.2" y="640.5">-0.05</text>
<text x="1422.2" y="640.5">0</text>
<text x="1609.3" y="640.5">0.05</text>
<text x="1796.3" y="640.5">0.1</text>
</g>
<text x="1421.5" y="688.3" font-size="37.5" text-anchor="middle">Strain (%)</text>
<text transform="translate(971 299) rotate(-90)" font-size="37" text-anchor="middle"><tspan class="it">2P</tspan><tspan font-size="24" dy="7">r</tspan><tspan dy="-7"> (μC/cm</tspan><tspan font-size="24" dy="-12">2</tspan><tspan dy="12">)</tspan></text>
<text class="sans" x="929.5" y="25.8" font-size="33">(b)</text>
<path d="M1138.5 292.9 L1421.8 263.6 L1520.6 207.7 L1612.9 127.6 L1705.4 100.4" fill="none" stroke="#FF0000" stroke-width="3.2" stroke-linejoin="round" stroke-linecap="round"/>
<path d="M1138.5 279.3 V306.9M1421.8 248.3 V278.9M1416.8 248.3 h10M1416.8 278.9 h10M1520.6 170.9 V245.6M1515.6 170.9 h10M1515.6 245.6 h10M1612.9 121.3 V134.9M1705.4 74.0 V127.5" fill="none" stroke="#FF0000" stroke-width="1.3"/>
<g fill="#FF0000"><circle cx="1138.5" cy="279.3" r="6.6"/><circle cx="1138.5" cy="306.9" r="6.6"/><circle cx="1421.8" cy="228.8" r="6.6"/><circle cx="1421.8" cy="238.4" r="6.6"/><circle cx="1421.8" cy="275.5" r="6.6"/><circle cx="1421.8" cy="303.8" r="6.6"/><circle cx="1421.8" cy="307.5" r="6.6"/><circle cx="1520.6" cy="146.4" r="6.6"/><circle cx="1520.6" cy="149.3" r="6.6"/><circle cx="1520.6" cy="298.8" r="6.6"/><circle cx="1520.6" cy="300.4" r="6.6"/><circle cx="1612.9" cy="121.3" r="6.6"/><circle cx="1612.9" cy="134.9" r="6.6"/><circle cx="1705.4" cy="74.0" r="6.6"/><circle cx="1705.4" cy="127.5" r="6.6"/></g>
</g>
</svg>
</body></html>
